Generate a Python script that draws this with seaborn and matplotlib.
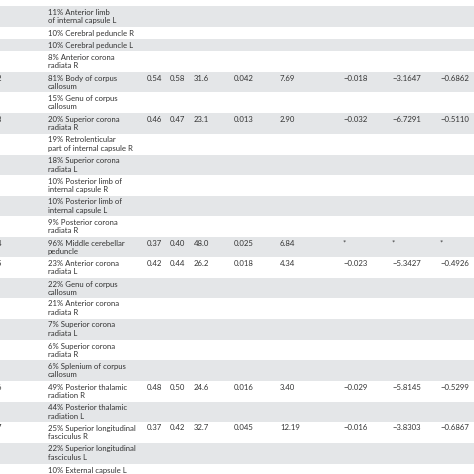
import matplotlib
matplotlib.use("Agg")
import matplotlib.pyplot as plt
import seaborn as sns

sns.set_theme(style="white")
plt.rcParams['font.family'] = ['Lato', 'DejaVu Sans']

# Table content
cluster_ids = ["", "", "", "", "", "2", "", "3", "", "", "", "", "", "4", "5", "", "", "", "", "", "6", "", "7", "", "", ""]
regions = [
    "of internal capsule R",
    "11% Anterior limb\nof internal capsule L",
    "10% Cerebral peduncle R",
    "10% Cerebral peduncle L",
    "8% Anterior corona\nradiata R",
    "81% Body of corpus\ncallosum",
    "15% Genu of corpus\ncallosum",
    "20% Superior corona\nradiata R",
    "19% Retrolenticular\npart of internal capsule R",
    "18% Superior corona\nradiata L",
    "10% Posterior limb of\ninternal capsule R",
    "10% Posterior limb of\ninternal capsule L",
    "9% Posterior corona\nradiata R",
    "96% Middle cerebellar\npeduncle",
    "23% Anterior corona\nradiata L",
    "22% Genu of corpus\ncallosum",
    "21% Anterior corona\nradiata R",
    "7% Superior corona\nradiata L",
    "6% Superior corona\nradiata R",
    "6% Splenium of corpus\ncallosum",
    "49% Posterior thalamic\nradiation R",
    "44% Posterior thalamic\nradiation L",
    "25% Superior longitudinal\nfasciculus R",
    "22% Superior longitudinal\nfasciculus L",
    "10% External capsule L",
]
col_a = {5: "0.54", 7: "0.46", 13: "0.37", 14: "0.42", 20: "0.48", 22: "0.37"}
col_b = {5: "0.58", 7: "0.47", 13: "0.40", 14: "0.44", 20: "0.50", 22: "0.42"}
col_c = {5: "31.6", 7: "23.1", 13: "48.0", 14: "26.2", 20: "24.6", 22: "32.7"}
col_d = {5: "0.042", 7: "0.013", 13: "0.025", 14: "0.018", 20: "0.016", 22: "0.045"}
col_e = {5: "7.69", 7: "2.90", 13: "6.84", 14: "4.34", 20: "3.40", 22: "12.19"}
col_f = {5: "\u22120.018", 7: "\u22120.032", 13: "*", 14: "\u22120.023", 20: "\u22120.029", 22: "\u22120.016"}
col_g = {5: "\u22123.1647", 7: "\u22126.7291", 13: "*", 14: "\u22125.3427", 20: "\u22125.8145", 22: "\u22123.8303"}
col_h = {5: "\u22120.6862", 7: "\u22120.5110", 13: "*", 14: "\u22120.4926", 20: "\u22120.5299", 22: "\u22120.6867"}

# layout (pixel units)
row_edges = [-15, 6, 27, 39, 51, 72, 92, 113, 134, 155, 175, 196, 216, 237,
             257, 278, 298, 319, 340, 360, 381, 402, 422, 443, 464, 485]
col_x = [-3, 48, 147, 170, 194, 234, 280, 343, 392, 440]

fig = plt.figure(figsize=(4.74, 4.74), dpi=100)
ax = fig.add_axes([0, 0, 1, 1])
ax.set_xlim(0, 474)
ax.set_ylim(474, 0)
ax.axis("off")

tc = "#333333"
fs = 5.6
for i, reg in enumerate(regions):
    top, bot = row_edges[i], row_edges[i + 1]
    if i % 2 == 1:
        ax.axhspan(top, bot, color="#e4e6e8", lw=0)
    y = top + 2.5
    ax.text(col_x[1], y, reg, fontsize=fs, color=tc, va="top", ha="left", linespacing=1.2)
    if cluster_ids[i]:
        ax.text(col_x[0], y, cluster_ids[i], fontsize=fs, color=tc, va="top", ha="left")
    for cx, col in zip(col_x[2:], [col_a, col_b, col_c, col_d, col_e, col_f, col_g, col_h]):
        if i in col:
            ax.text(cx, y, col[i], fontsize=fs, color=tc, va="top", ha="left")

fig.savefig("out.png", dpi=100)
